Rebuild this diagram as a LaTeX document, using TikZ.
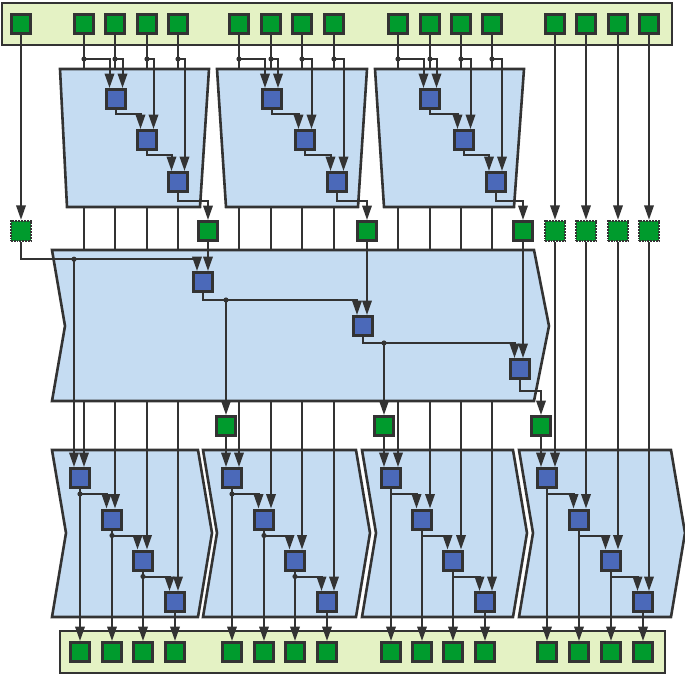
\documentclass[tikz,border=0pt]{standalone}
\usetikzlibrary{arrows.meta,calc}
\definecolor{edge}{RGB}{51,51,51}
\definecolor{sqgreen}{RGB}{0,155,45}
\definecolor{sqblue}{RGB}{75,105,185}
\definecolor{blkfill}{RGB}{197,220,242}
\definecolor{barfill}{RGB}{228,242,196}
\begin{document}
\begin{tikzpicture}[x=1pt,y=-1pt,
  edgeln/.style={draw=edge,line width=2.6pt,line join=miter},
  barbox/.style={edgeln,fill=barfill},
  blkbox/.style={edgeln,fill=blkfill},
  gsq/.style={rectangle,draw=edge,line width=3pt,fill=sqgreen,minimum size=19pt,inner sep=0pt},
  gdsq/.style={rectangle,draw=edge,densely dotted,line width=1.9pt,fill=sqgreen,minimum size=20.5pt,inner sep=0pt},
  bsq/.style={gsq,fill=sqblue},
  wire/.style={draw=edge,line width=2pt},
  arr/.style={wire,-{Triangle[length=14.5pt,width=9.5pt]}},
  jdot/.style={circle,fill=edge,inner sep=0pt,minimum size=5.2pt},
]
\useasboundingbox (0,0) rectangle (685,675);
\coordinate (rowD) at (0,59);
\coordinate (rowG) at (0,231);
% bars
\draw[barbox] (2,3) rectangle (672,45);
\draw[barbox] (60,631) rectangle (665,673);
\foreach \n/\x in {0/21,1/84,2/115,3/147,4/178,5/239,6/271,7/302,8/334,9/398,10/430,11/461,12/492,13/555,14/586,15/618,16/649}
  \node[gsq] (t\n) at (\x,24) {};
\foreach \g/\xa/\xb/\xc/\xd in {1/80/112/143/175,2/232/264/295/327,3/391/422/453/485,4/547/579/611/643} {
  \node[gsq] (s\g1) at (\xa,652) {};
  \node[gsq] (s\g2) at (\xb,652) {};
  \node[gsq] (s\g3) at (\xc,652) {};
  \node[gsq] (s\g4) at (\xd,652) {};
}
% bottom blocks
\foreach \L/\R in {52/198,203/356,362/513,519/671}
  \draw[blkbox] (\L,450) -- (\R,450) -- (\R+14,533) -- (\R,617) -- (\L,617) -- (\L+14,533) -- cycle;
\foreach \g/\xa/\xb/\xc/\xd in {1/80/112/143/175,2/232/264/295/327,3/391/422/453/485,4/547/579/611/643} {
  \node[bsq] (q\g1) at (\xa,478) {};
  \node[bsq] (q\g2) at (\xb,519.5) {};
  \node[bsq] (q\g3) at (\xc,560.5) {};
  \node[bsq] (q\g4) at (\xd,602) {};
}
% column wires
\foreach \n/\q in {1/11,2/12,3/13,4/14,5/21,6/22,7/23,8/24,9/31,10/32,11/33,12/34}
  \draw[arr] (t\n.south) -- (t\n.south |- q\q.north);
\node[gdsq] (d0) at (t0 |- rowG) {};
\draw[arr] (t0.south) -- (d0.north);
\foreach \n/\q in {13/41,14/42,15/43,16/44} {
  \node[gdsq] (d\n) at (t\n |- rowG) {};
  \draw[arr] (t\n.south) -- (d\n.north);
  \draw[arr] (d\n.south) -- (d\n.south |- q\q.north);
}
% top trapezoids and middle block
\draw[blkbox] (60,69) -- (209,69) -- (200,207) -- (67,207) -- cycle;
\draw[blkbox] (217,69) -- (367,69) -- (358,207) -- (226,207) -- cycle;
\draw[blkbox] (375,69) -- (524,69) -- (514,207) -- (384,207) -- cycle;
\draw[blkbox] (52,250) -- (534,250) -- (549,326) -- (534,401) -- (52,401) -- (65,326) -- cycle;
% top stages
\foreach \g/\xa/\xb/\xc/\ca/\cb/\cc/\cd/\gx in {1/116/147/178/1/2/3/4/208,2/271.5/305/337/5/6/7/8/367,3/430/464/495.5/9/10/11/12/523} {
  \node[bsq] (p\g1) at (\xa,99) {};
  \node[bsq] (p\g2) at (\xb,140) {};
  \node[bsq] (p\g3) at (\xc,182) {};
  \node[gsq] (g\g) at (\gx,231) {};
  \draw[arr] (t\ca |- rowD) -| ([xshift=-6.5pt]p\g1.north);
  \draw[arr] (t\cb |- rowD) -| ([xshift=6.5pt]p\g1.north);
  \draw[arr] (p\g1.south) -- ++(0,4) -| ([xshift=-6.5pt]p\g2.north);
  \draw[arr] (t\cc |- rowD) -| ([xshift=6.5pt]p\g2.north);
  \draw[arr] (p\g2.south) -- ++(0,4) -| ([xshift=-6.5pt]p\g3.north);
  \draw[arr] (t\cd |- rowD) -| ([xshift=6.5pt]p\g3.north);
  \draw[arr] (p\g3.south) -- ++(0,8) -| (g\g.north);
  \foreach \c in {\ca,\cb,\cc,\cd} \node[jdot] at (t\c |- rowD) {};
}
% middle stage
\node[bsq] (m1) at (203,282) {};
\node[bsq] (m2) at (362.5,326) {};
\node[bsq] (m3) at (519.5,369) {};
\node[gsq] (h1) at (226,426) {};
\node[gsq] (h2) at (384,426) {};
\node[gsq] (h3) at (541,426) {};
\draw[arr] (d0.south) -- ++(0,17) -| ([xshift=-6pt]m1.north);
\coordinate (j0) at ($(d0.south)+(53,17)$);
\draw[arr] (j0) -- (j0 |- q11.north);
\draw[arr] (g1.south) -- (g1.south |- m1.north);
\draw[arr] (m1.south) -- ++(0,7) -| ([xshift=-5.5pt]m2.north);
\coordinate (j1) at ($(m1.south)+(23,7)$);
\draw[arr] (j1) -- (h1.north);
\draw[arr] (g2.south) -- (g2.south |- m2.north);
\draw[arr] (m2.south) -- ++(0,6) -| ([xshift=-5pt]m3.north);
\coordinate (j2) at ($(m2.south)+(21.5,6)$);
\draw[arr] (j2) -- (h2.north);
\draw[arr] (g3.south) -- (g3.south |- m3.north);
\draw[arr] (m3.south) -- ++(0,11) -| (h3.north);
\foreach \j in {j0,j1,j2} \node[jdot] at (\j) {};
\draw[arr] (h1.south) -- (h1.south |- q21.north);
\draw[arr] (h2.south) -- (h2.south |- q31.north);
\draw[arr] (h3.south) -- (h3.south |- q41.north);
% bottom stages
\foreach \g in {1,2,3,4} {
  \foreach \k in {1,2,3,4} \draw[arr] (q\g\k.south) -- (s\g\k.north);
  \foreach \k/\kk in {1/2,2/3,3/4}
    \draw[arr] ($(q\g\k.south)+(0,5)$) -| ([xshift=-5.5pt]q\g\kk.north);
}
\foreach \g in {1,2}
  \foreach \k in {1,2,3}
    \node[jdot] at ($(q\g\k.south)+(0,5)$) {};
\end{tikzpicture}
\end{document}
